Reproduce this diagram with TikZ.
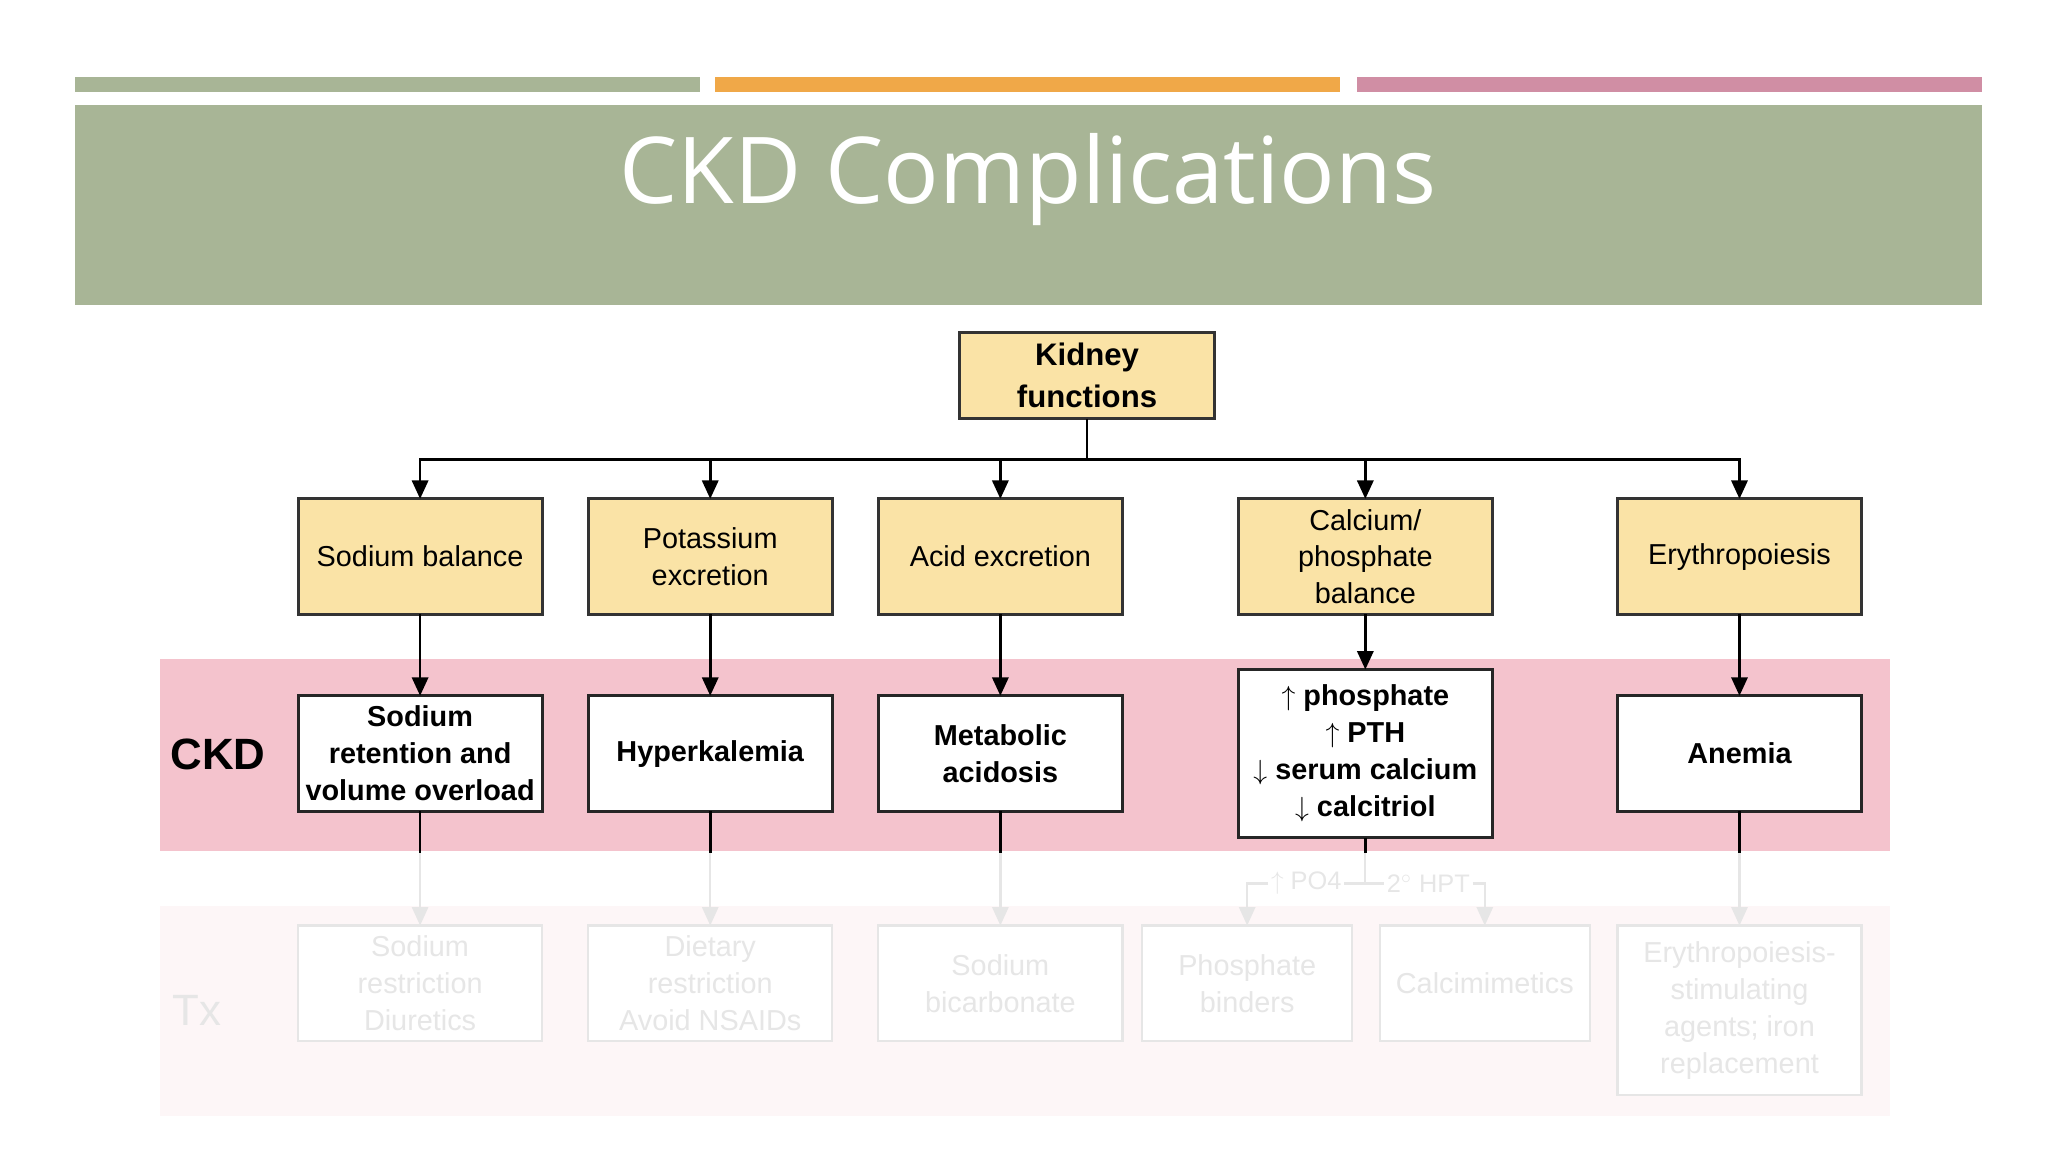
\documentclass[tikz,border=0pt]{standalone}
\usepackage{fontspec}
\setmainfont{Liberation Sans}
\newfontfamily\titlefont{Open Sans}
\usetikzlibrary{positioning, arrows.meta}
\definecolor{sage}{HTML}{A8B596}
\definecolor{barorange}{HTML}{F0A848}
\definecolor{barpink}{HTML}{D08EA4}
\definecolor{boxyellow}{HTML}{FAE3A6}
\definecolor{ckdpink}{HTML}{F4C3CD}
\definecolor{faint}{HTML}{E6E6E6}
\definecolor{faintband}{HTML}{FDF6F7}
\tikzset{
  box/.style={rectangle, align=center, inner sep=1pt, outer sep=0pt, minimum width=3.72cm, minimum height=1.76cm, font=\fontsize{12.5}{16}\selectfont},
  func/.style={box, draw=black!80, line width=1.3pt, fill=boxyellow},
  ckd/.style={box, draw=black!85, line width=1.3pt, fill=white, font=\fontsize{12.5}{16}\selectfont\bfseries},
  tx/.style={box, draw=faint, line width=1pt, fill=white, text=faint},
  link/.style={line width=1.2pt, -{Triangle[length=8pt, width=7pt]}},
  fadelink/.style={draw=faint, line width=1pt, -{Triangle[length=8pt, width=7pt]}}
}
\begin{document}
\begin{tikzpicture}[x=0.02cm, y=-0.02cm]
  \useasboundingbox (0,0) rectangle (1560,880);
  % Header
  \fill[sage] (57,59) rectangle (533,70);
  \fill[barorange] (545,59) rectangle (1021,70);
  \fill[barpink] (1034,59) rectangle (1510,70);
  \fill[sage] (57,80) rectangle (1510,232);
  \node[text=white, font=\titlefont\fontsize{40}{48}\selectfont] (title) at (783,137) {CKD Complications};
  % Bands
  \fill[ckdpink] (122,502) rectangle (1440,648);
  \fill[faintband] (122,690) rectangle (1440,850);
  \node[font=\fontsize{19}{23}\selectfont\bfseries] (ckdlabel) at (166,575) {CKD};
  \node[text=faint, font=\fontsize{19}{23}\selectfont] (txlabel) at (150,770) {Tx};
  % Kidney functions
  \node[func, minimum width=3.88cm, minimum height=1.32cm, font=\fontsize{13.5}{18}\selectfont\bfseries] (kidney) at (828,286) {Kidney\\functions};
  % Functions
  \foreach \n/\x/\t in {sodium/320/{Sodium balance}, potassium/541/{Potassium\\excretion}, acid/762/{Acid excretion}, erythro/1325/{Erythropoiesis}}
    \node[func] (\n) at (\x,424) {\t};
  \node[func, minimum width=3.88cm] (calcium) at (1040,424) {Calcium/\\phosphate\\balance};
  % CKD findings
  \node[ckd] (sodiumc) at (320,574) {Sodium\\retention and\\volume overload};
  \node[ckd] (potassiumc) at (541,574) {Hyperkalemia};
  \node[ckd] (acidc) at (762,574) {Metabolic\\acidosis};
  \node[ckd, minimum width=3.88cm, minimum height=2.56cm] (calciumc) at (1040,574) {$\uparrow$ phosphate\\$\uparrow$ PTH\\$\downarrow$ serum calcium\\$\downarrow$ calcitriol};
  \node[ckd] (erythroc) at (1325,574) {Anemia};
  % Treatments
  \node[tx] (sodiumt) at (320,749) {Sodium\\restriction\\Diuretics};
  \node[tx] (potassiumt) at (541,749) {Dietary\\restriction\\Avoid NSAIDs};
  \node[tx] (acidt) at (762,749) {Sodium\\bicarbonate};
  \node[tx, minimum width=3.2cm] (phost) at (950,749) {Phosphate\\binders};
  \node[tx, minimum width=3.2cm] (calcit) at (1131,749) {Calcimimetics};
  \node[tx, minimum height=2.58cm, anchor=north] (erythrot) at (1325,705) {Erythropoiesis-\\stimulating\\agents; iron\\replacement};
  % Tree
  \coordinate (hub) at (828,350);
  \draw[line width=1.2pt] (kidney.south) -- (hub);
  \foreach \n in {sodium, potassium, acid, calcium, erythro}
    \draw[link] (hub) -| (\n.north);
  \foreach \n in {sodium, potassium, acid, calcium, erythro}
    \draw[link] (\n) -- (\n c);
  % Fading links
  \foreach \n in {sodium, potassium, acid, erythro} {
    \coordinate (\n f) at ([yshift=-0.64cm]\n c.south);
    \draw[line width=1.2pt] (\n c.south) -- (\n f);
    \draw[fadelink] (\n f) -- (\n t.north);
  }
  \coordinate (calciumf) at (1040,650);
  \coordinate (split) at (1040,673);
  \draw[line width=1.2pt] (calciumc.south) -- (calciumf);
  \draw[draw=faint, line width=1pt] (calciumf) -- (split);
  \node[text=faint, font=\fontsize{11}{13}\selectfont, inner sep=1pt] (po) at (995,673) {$\uparrow$ PO4};
  \node[text=faint, font=\fontsize{11}{13}\selectfont, inner sep=1pt] (hpt) at (1088,673) {2$^\circ$ HPT};
  \draw[draw=faint, line width=1pt] (po.east) -- (hpt.west);
  \draw[fadelink] (po.west) -| (phost.north);
  \draw[fadelink] (hpt.east) -| (calcit.north);
\end{tikzpicture}
\end{document}
